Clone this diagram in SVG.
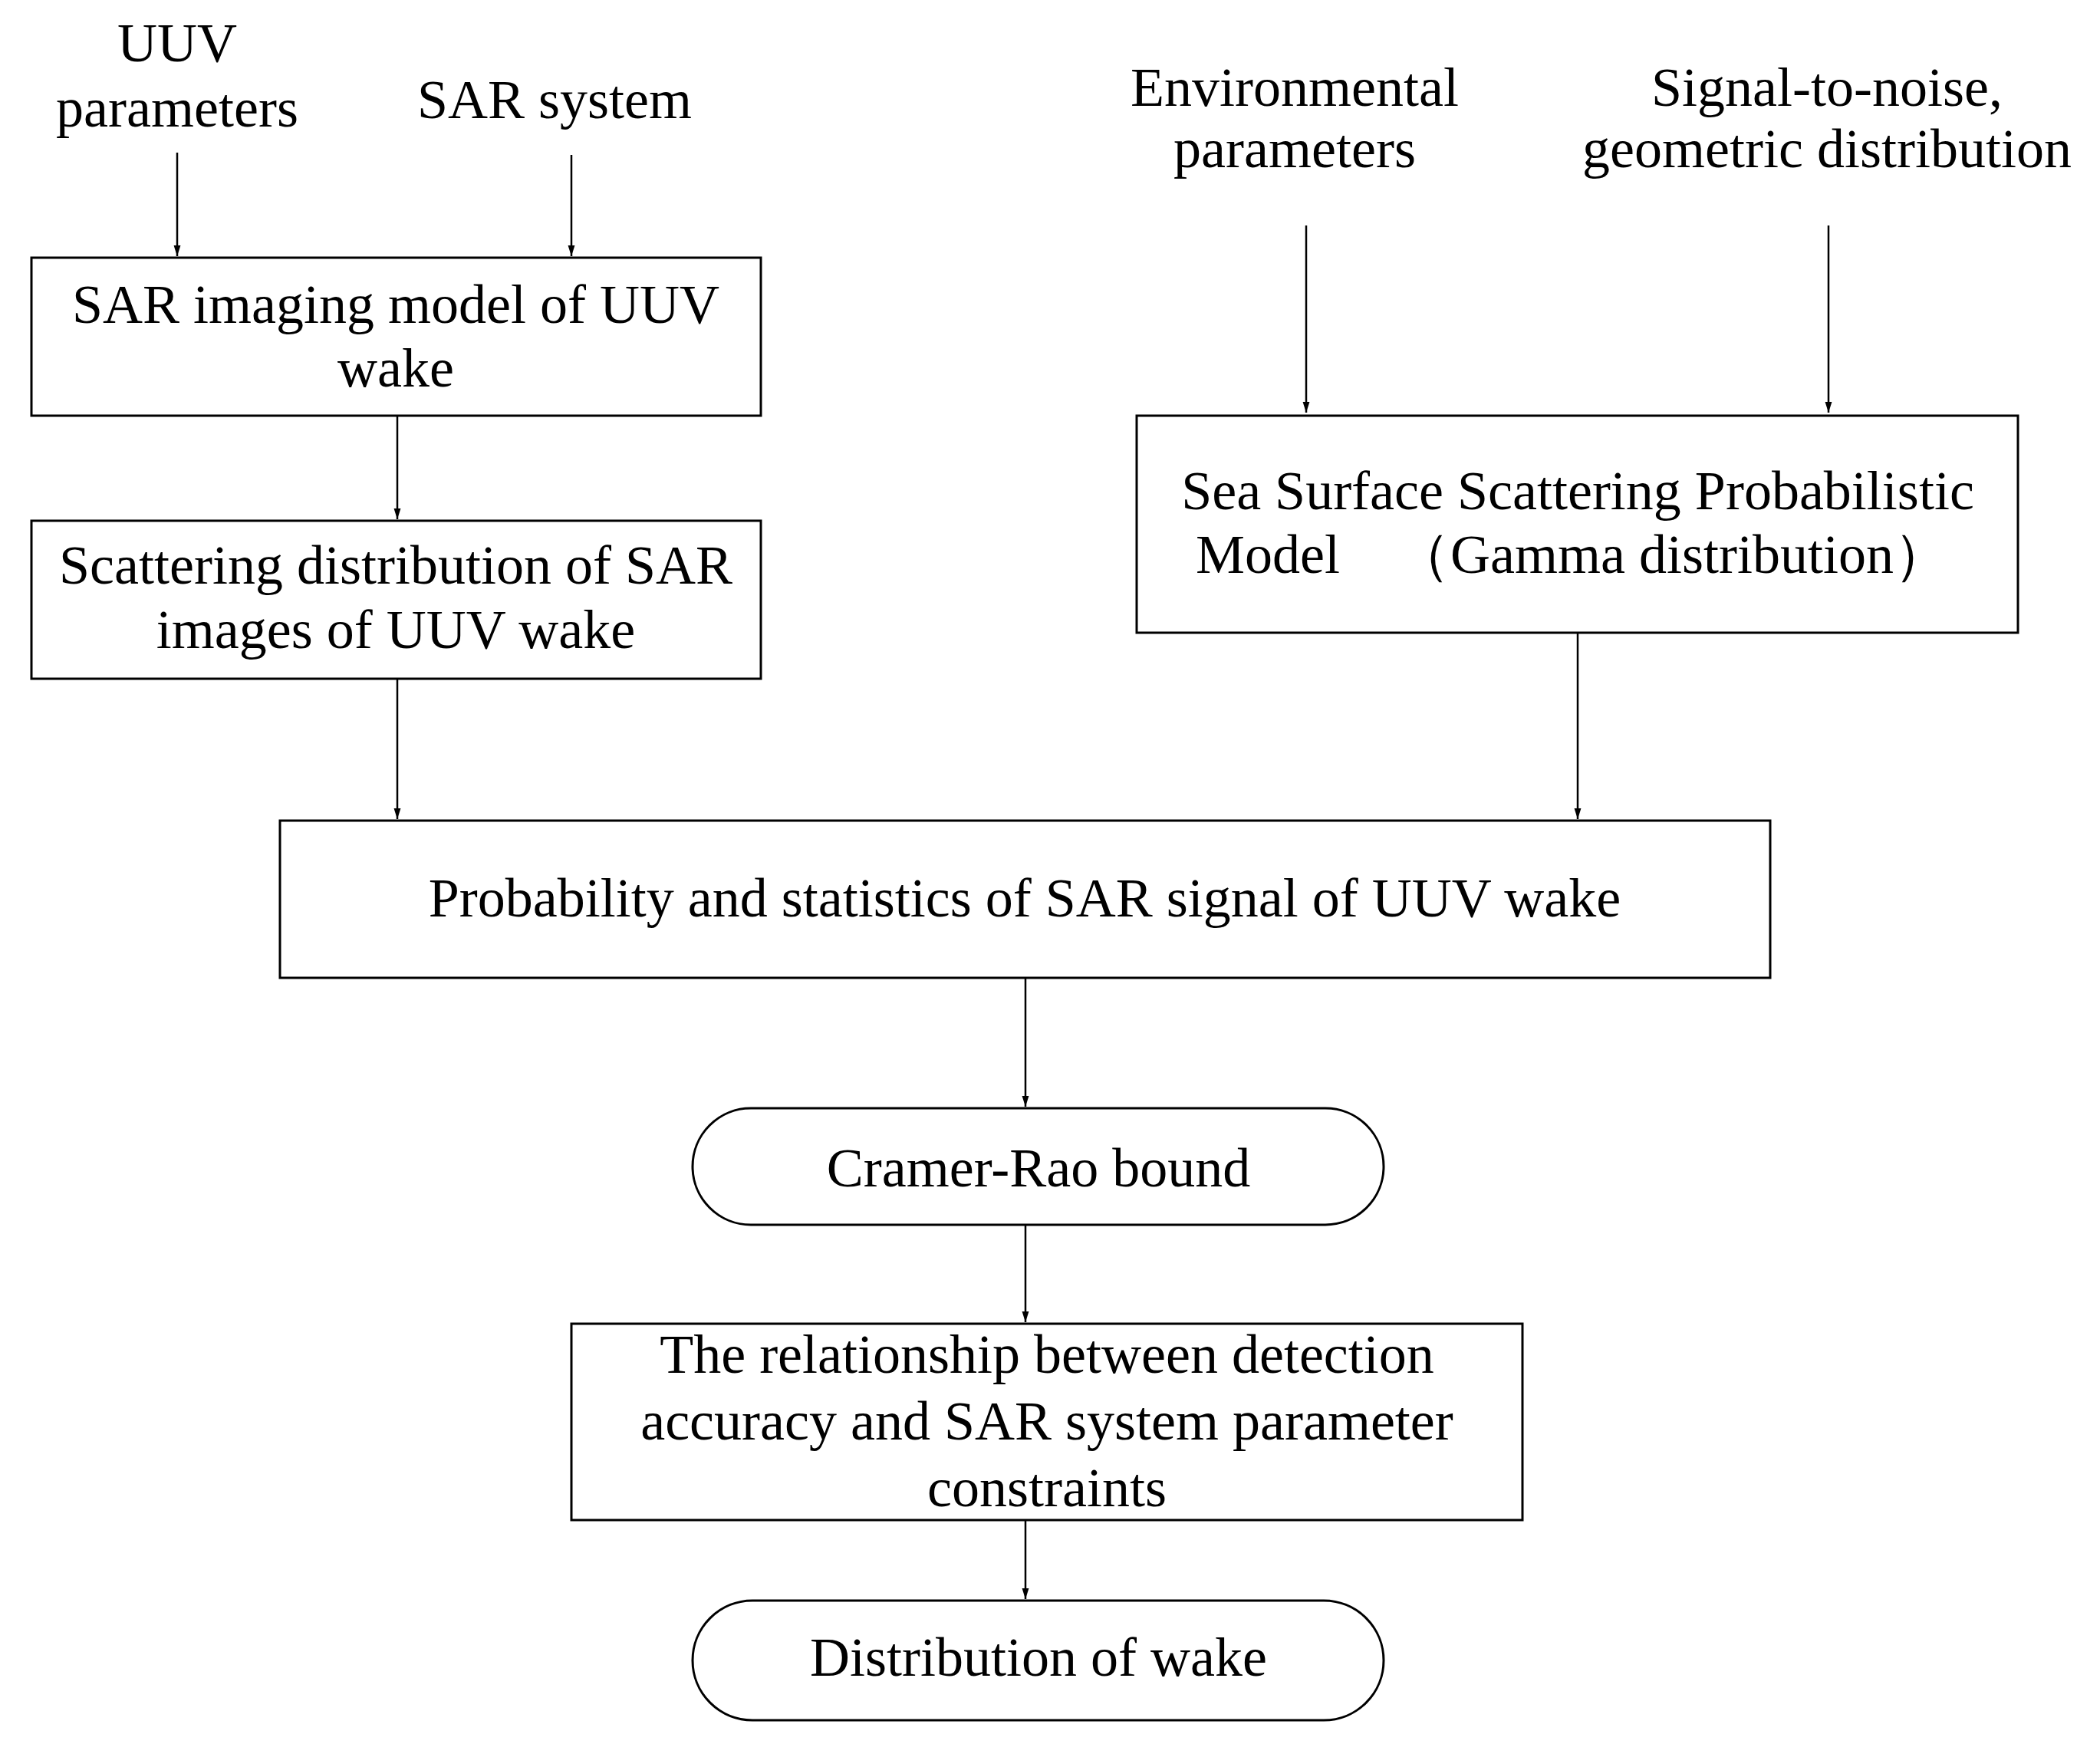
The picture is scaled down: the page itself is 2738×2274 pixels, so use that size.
<svg xmlns="http://www.w3.org/2000/svg" width="2738" height="2274" viewBox="0 0 2738 2274">
<style>
.b{fill:#fff;stroke:#000;stroke-width:3}
.l{stroke:#000;stroke-width:2.5;fill:none}
text{font-family:"Liberation Serif","Times New Roman",serif;font-size:72px;fill:#000;text-anchor:middle}
</style>
<defs><marker id="a" markerWidth="14" markerHeight="22" refX="22" refY="7" orient="auto" markerUnits="userSpaceOnUse" viewBox="0 0 22 14"><path d="M0,0 L22,7 L0,14z" fill="#000"/></marker></defs>
<rect width="2738" height="2274" fill="#fff"/>
<g id="connectors">
<path class="l" d="M231,199V334" marker-end="url(#a)"/>
<path class="l" d="M745,202V334" marker-end="url(#a)"/>
<path class="l" d="M518,542V677" marker-end="url(#a)"/>
<path class="l" d="M518,885V1068" marker-end="url(#a)"/>
<path class="l" d="M1703,294V538" marker-end="url(#a)"/>
<path class="l" d="M2384,294V538" marker-end="url(#a)"/>
<path class="l" d="M2057,825V1068" marker-end="url(#a)"/>
<path class="l" d="M1337,1275V1443" marker-end="url(#a)"/>
<path class="l" d="M1337,1597V1724" marker-end="url(#a)"/>
<path class="l" d="M1337,1982V2085" marker-end="url(#a)"/>
</g>
<g id="in1"><text x="231" y="80">UUV</text><text x="231" y="165">parameters</text></g>
<g id="in2"><text x="723" y="154">SAR system</text></g>
<g id="in3"><text x="1688" y="138">Environmental</text><text x="1688" y="218">parameters</text></g>
<g id="in4"><text x="2382" y="138">Signal-to-noise,</text><text x="2382" y="218">geometric distribution</text></g>
<g id="n1"><rect class="b" x="41" y="336" width="951" height="206"/><text x="516" y="421">SAR imaging model of UUV</text><text x="516" y="504">wake</text></g>
<g id="n2"><rect class="b" x="41" y="679" width="951" height="206"/><text x="516" y="761">Scattering distribution of SAR</text><text x="516" y="845">images of UUV wake</text></g>
<g id="n3"><rect class="b" x="1482" y="542" width="1149" height="283"/><text x="2057" y="664">Sea Surface Scattering Probabilistic</text><text x="2050" y="747">Model　（Gamma distribution）</text></g>
<g id="n4"><rect class="b" x="365" y="1070" width="1943" height="205"/><text x="1336" y="1195">Probability and statistics of SAR signal of UUV wake</text></g>
<g id="n5"><rect class="b" x="903" y="1445" width="901" height="152" rx="76" ry="76"/><text x="1354" y="1547">Cramer-Rao bound</text></g>
<g id="n6"><rect class="b" x="745" y="1726" width="1240" height="256"/><text x="1365" y="1790">The relationship between detection</text><text x="1365" y="1877">accuracy and SAR system parameter</text><text x="1365" y="1964">constraints</text></g>
<g id="n7"><rect class="b" x="903" y="2087" width="901" height="156" rx="78" ry="78"/><text x="1354" y="2185">Distribution of wake</text></g>
</svg>
